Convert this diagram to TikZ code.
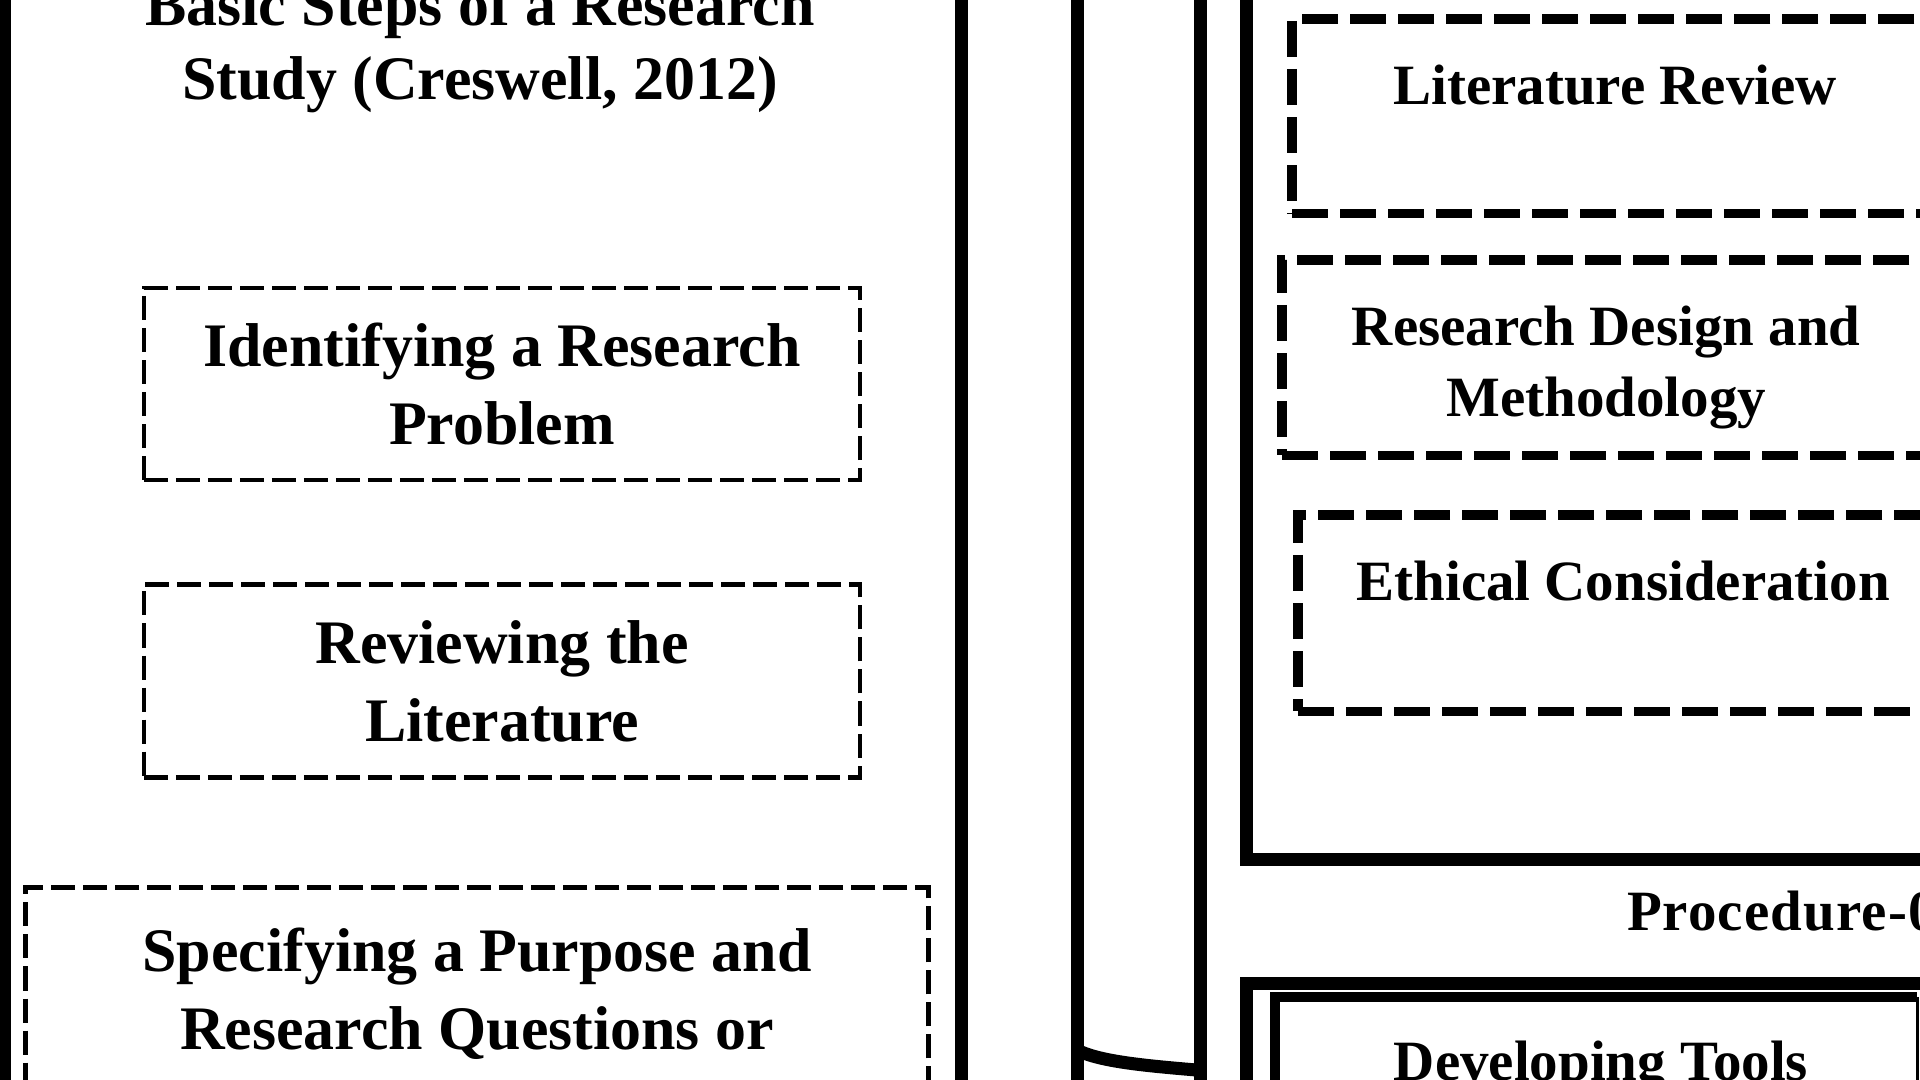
\documentclass[tikz,border=0pt]{standalone}
\usepackage{fontspec}
\setmainfont{Liberation Serif}
\usepackage{xcolor}
\usetikzlibrary{positioning}
\definecolor{stepink}{RGB}{0, 0, 0}

\begin{document}
\begin{tikzpicture}[x=0.01cm, y=-0.01cm,
  frame/.style={draw=stepink, line width=0.13cm},
  stepbox/.style={draw=stepink, line width=1.3pt, dash pattern=on 0.24cm off 0.08cm, inner sep=0pt, outer sep=0pt, align=center, font=\fontsize{17.6pt}{22.2pt}\selectfont\bfseries},
  procbox/.style={draw=stepink, line width=2.6pt, dash pattern=on 0.36cm off 0.12cm, inner sep=0pt, outer sep=0pt, anchor=north west},
  proctext/.style={inner sep=0pt, outer sep=0pt, align=center, font=\fontsize{16.2pt}{20.2pt}\selectfont\bfseries}]
\useasboundingbox (0,0) rectangle (1920,1080);
\clip (0,0) rectangle (1920,1080);
\fill[white] (0,0) rectangle (1920,1080);

\draw[frame] (4,-40) rectangle (961,1120);
\node[inner sep=0pt, align=center, font=\fontsize{17.6pt}{21pt}\selectfont\bfseries] (steps) at (480,47) {Basic Steps of a Research\\Study (Creswell, 2012)};
\node[stepbox, minimum width=7.16cm, minimum height=1.92cm] (problem) at (502,384) {Identifying a Research\\Problem};
\node[stepbox, minimum width=7.16cm, minimum height=1.93cm] (review) at (502,681) {Reviewing the\\Literature};
\node[stepbox, minimum width=9.02cm, minimum height=2.93cm] (purpose) at (477,1034) {Specifying a Purpose and\\Research Questions or\\Hypotheses};

\draw[frame] (1077,-40) -- (1077,1120);
\draw[frame] (1200,-40) -- (1200,1120);
\draw[frame] (1077,1050) .. controls (1100,1062) and (1150,1066) .. (1196,1070);

\draw[frame] (1246,-40) rectangle (2000,860);
\node[procbox, minimum width=6.46cm, minimum height=1.94cm] (litbox) at (1292,19) {};
\node[proctext, below=0.46cm of litbox.north] (lit) {Literature Review};
\node[procbox, minimum width=6.48cm, minimum height=1.95cm] (designbox) at (1282,260) {};
\node[proctext, below=0.46cm of designbox.north] (design) {Research Design and\\Methodology};
\node[procbox, minimum width=6.50cm, minimum height=1.96cm] (ethicbox) at (1298,515) {};
\node[proctext, below=0.46cm of ethicbox.north] (ethic) {Ethical Consideration};

\node[proctext, anchor=base west, font=\fontsize{16.2pt}{20.2pt}\selectfont\bfseries\addfontfeatures{LetterSpace=2}] (proc) at (1627,931) {Procedure-0};

\draw[frame] (1246,1120) |- (2000,984);
\draw[draw=stepink, line width=0.1cm] (1275,1120) |- (1917,997);
\draw[draw=stepink, line width=0.03cm] (1917,997) -- (1917,1120);
\node[proctext, anchor=base] (tools) at (1601,1081) {Developing Tools};
\end{tikzpicture}
\end{document}
